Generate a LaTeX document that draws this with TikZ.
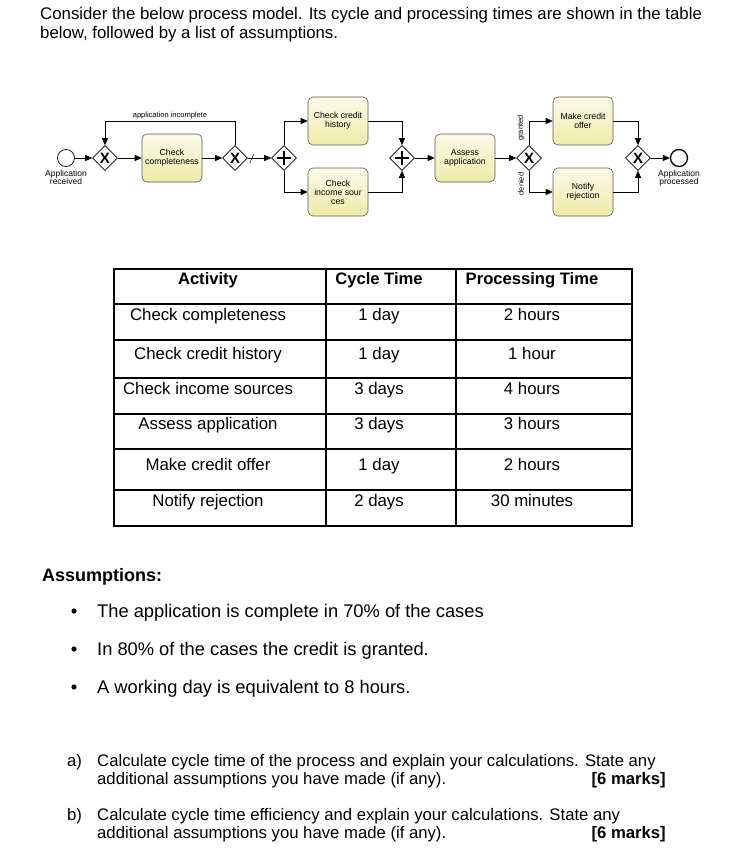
\documentclass[tikz,border=0pt]{standalone}
\usepackage{fontspec}
\setmainfont{Liberation Sans}
\usetikzlibrary{shapes.geometric,arrows.meta}
\definecolor{taskfill}{RGB}{240,235,168}
\definecolor{taskedge}{RGB}{90,90,80}
\begin{document}
\begin{tikzpicture}[x=1pt,y=-1pt,
  task/.style={draw=taskedge, line width=0.6pt, rounded corners=5pt, top color=taskfill!25, bottom color=taskfill, minimum width=60pt, minimum height=48pt, inner sep=1pt, align=center, font=\fontsize{8.7}{9}\selectfont},
  gw/.style={diamond, draw, fill=white, line width=0.6pt, minimum width=25pt, minimum height=25pt, inner sep=0pt},
  xor/.style={font=\fontsize{15}{15}\selectfont\bfseries},
  ev/.style={circle, draw, fill=white, line width=0.7pt, minimum size=17pt, inner sep=0pt},
  flow/.style={-{Triangle[length=7pt,width=6pt]}, line width=0.6pt},
  small/.style={font=\fontsize{8.5}{8.5}\selectfont, align=center, inner sep=0pt},
  tiny/.style={font=\fontsize{7.5}{7.5}\selectfont, inner sep=0pt},
  body/.style={anchor=base west, inner sep=0pt, font=\fontsize{16.8}{19}\selectfont},
  ques/.style={anchor=base west, inner sep=0pt, font=\fontsize{16.7}{19}\selectfont},
  bul/.style={anchor=base west, inner sep=0pt, font=\fontsize{18.3}{20}\selectfont},
  cell/.style={anchor=base, inner sep=0pt, font=\fontsize{16.8}{19}\selectfont},
  head/.style={anchor=base, inner sep=0pt, font=\fontsize{16.6}{19}\selectfont\bfseries},
  grid/.style={line width=1.1pt},
]
\useasboundingbox (0,0) rectangle (740,859);
\fill[white] (0,0) rectangle (740,859);

% intro text
\node[body] (intro1) at (40,20) {Consider the below process model. Its cycle and processing times are shown in the table};
\node[body] (intro2) at (40,39) {below, followed by a list of assumptions.};

% process model
\node[ev] (start) at (66,158) {};
\node[small, anchor=north] (startlbl) at (66,170) {Application\\received};
\node[gw, xor] (x1) at (105,158) {X};
\node[task] (cc) at (172,158) {Check\\completeness};
\node[gw, xor] (x2) at (235,158) {X};
\node[gw] (a1) at (284,158) {};
\node[task] (cch) at (338,121) {Check credit\\history};
\node[task] (cis) at (338,192) {Check\\income sour\\ces};
\node[gw] (a2) at (402,158) {};
\node[task] (as) at (465,158) {Assess\\application};
\node[gw, xor] (x3) at (529,158) {X};
\node[task] (mco) at (583,121) {Make credit\\offer};
\node[task] (nr) at (583,192) {Notify\\rejection};
\node[gw, xor] (x4) at (638,158) {X};
\node[ev, line width=1.3pt] (end) at (679,158) {};
\node[small, anchor=north] (endlbl) at (679,170) {Application\\processed};

\foreach \g in {a1,a2}{
  \draw[line width=2.3pt] ([shift={(-7,0)}]\g.center) -- ([shift={(7,0)}]\g.center);
  \draw[line width=2.3pt] ([shift={(0,-7)}]\g.center) -- ([shift={(0,7)}]\g.center);
}

\draw[flow] (start) -- (x1);
\draw[flow] (x1) -- (cc);
\draw[flow] (cc) -- (x2);
\draw[flow] (x2) -- (a1);
\draw[line width=0.5pt] ([shift={(2,5)}]x2.east) -- ([shift={(6,-4)}]x2.east);
\draw[flow] (x2.north) -- ++(0,-24) -| (x1.north);
\node[tiny] (inclbl) at (170,116) {application incomplete};
\draw[flow] (a1.north) |- (cch.west);
\draw[flow] (a1.south) |- (cis.west);
\draw[flow] (cch.east) -| (a2.north);
\draw[flow] (cis.east) -| (a2.south);
\draw[flow] (a2) -- (as);
\draw[flow] (as) -- (x3);
\draw[flow] (x3.north) |- (mco.west);
\draw[flow] (x3.south) |- (nr.west);
\node[tiny, rotate=90] (glbl) at (521,128) {granted};
\node[tiny, rotate=90] (dlbl) at (521,184) {denied};
\draw[flow] (mco.east) -| (x4.north);
\draw[flow] (nr.east) -| (x4.south);
\draw[flow] (x4) -- (end);

% table
\draw[grid] (114,269) rectangle (632,526);
\foreach \yy in {304,340,378,414,449,490}{ \draw[grid] (114,\yy) -- (632,\yy); }
\draw[grid] (326,269) -- (326,526);
\draw[grid] (456,269) -- (456,526);
\node[head] (h1) at (208,284) {Activity};
\node[head] (h2) at (379,284) {Cycle Time};
\node[head] (h3) at (532,284) {Processing Time};
\node[cell] (r1a) at (208,320) {Check completeness};
\node[cell] (r1b) at (379,320) {1 day};
\node[cell] (r1c) at (532,320) {2 hours};
\node[cell] (r2a) at (208,359) {Check credit history};
\node[cell] (r2b) at (379,359) {1 day};
\node[cell] (r2c) at (532,359) {1 hour};
\node[cell] (r3a) at (208,394) {Check income sources};
\node[cell] (r3b) at (379,394) {3 days};
\node[cell] (r3c) at (532,394) {4 hours};
\node[cell] (r4a) at (208,429) {Assess application};
\node[cell] (r4b) at (379,429) {3 days};
\node[cell] (r4c) at (532,429) {3 hours};
\node[cell] (r5a) at (208,470) {Make credit offer};
\node[cell] (r5b) at (379,470) {1 day};
\node[cell] (r5c) at (532,470) {2 hours};
\node[cell] (r6a) at (208,506) {Notify rejection};
\node[cell] (r6b) at (379,506) {2 days};
\node[cell] (r6c) at (532,506) {30 minutes};

% assumptions
\node[anchor=base west, inner sep=0pt, font=\fontsize{18}{20}\selectfont\bfseries] (asm) at (42,581) {Assumptions:};
\foreach \yy in {611,649,687}{ \fill (74,\yy) circle (2.6); }
\node[bul] (t1) at (97,617) {The application is complete in 70\% of the cases};
\node[bul] (t2) at (97,655) {In 80\% of the cases the credit is granted.};
\node[bul] (t3) at (97,693) {A working day is equivalent to 8 hours.};

% questions
\node[ques] (qa) at (67,766) {a)};
\node[ques] (qa1) at (97,766) {Calculate cycle time of the process and explain your calculations. State any};
\node[ques] (qa2) at (97,784) {additional assumptions you have made (if any).};
\node[ques, anchor=base east, font=\fontsize{16.7}{19}\selectfont\bfseries] (ma) at (666,784) {[6 marks]};
\node[ques] (qb) at (67,820) {b)};
\node[ques] (qb1) at (97,820) {Calculate cycle time efficiency and explain your calculations. State any};
\node[ques] (qb2) at (97,838) {additional assumptions you have made (if any).};
\node[ques, anchor=base east, font=\fontsize{16.7}{19}\selectfont\bfseries] (mb) at (666,838) {[6 marks]};
\end{tikzpicture}
\end{document}
